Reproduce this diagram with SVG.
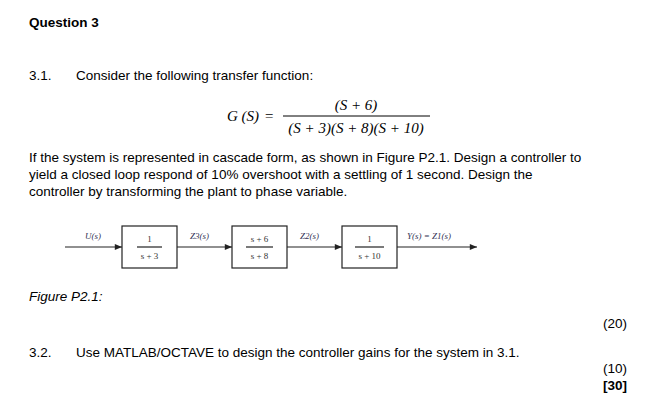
<svg xmlns="http://www.w3.org/2000/svg" width="659" height="418" viewBox="0 0 659 418">
<defs>
<style>
.t{font-family:"Liberation Sans",Arial,sans-serif;font-size:13.5px;fill:#000}
.m{font-family:"Liberation Serif","Times New Roman",serif;font-size:15px;font-style:italic;fill:#000}
.b{font-family:"Liberation Serif",serif;font-size:9px;fill:#333}
.bi{font-family:"Liberation Serif",serif;font-size:9px;font-style:italic;fill:#335}
.box{fill:#fff;stroke:#222;stroke-width:1.2}
.ln{stroke:#222;stroke-width:1.2;fill:none}
</style>
<marker id="a" viewBox="0 0 10 10" refX="10" refY="5" markerWidth="7" markerHeight="6" orient="auto"><path d="M0,1 L10,5 L0,9 z" fill="#222"/></marker>
</defs>
<rect width="659" height="418" fill="#fff"/>
<text class="t" x="29" y="27" font-weight="bold">Question 3</text>
<text class="t" x="29" y="80">3.1.</text>
<text class="t" x="76" y="80">Consider the following transfer function:</text>
<text class="m" x="227" y="121">G (S)</text>
<text class="m" x="264" y="121" font-style="normal">=</text>
<text class="m" x="356" y="110" text-anchor="middle">(S + 6)</text>
<line x1="283" y1="116" x2="430" y2="116" stroke="#000" stroke-width="1"/>
<text class="m" x="356" y="133" text-anchor="middle">(S + 3)(S + 8)(S + 10)</text>
<text class="t" x="29" y="162">If the system is represented in cascade form, as shown in Figure P2.1. Design a controller to</text>
<text class="t" x="29" y="179">yield a closed loop respond of 10% overshoot with a settling of 1 second. Design the</text>
<text class="t" x="29" y="196">controller by transforming the plant to phase variable.</text>
<g id="connectors">
<line class="ln" x1="65" y1="247" x2="122" y2="247" marker-end="url(#a)"/>
<line class="ln" x1="177" y1="247" x2="232" y2="247" marker-end="url(#a)"/>
<line class="ln" x1="287" y1="247" x2="342" y2="247" marker-end="url(#a)"/>
<line class="ln" x1="397" y1="247" x2="477" y2="247" marker-end="url(#a)"/>
</g>
<g id="b1"><rect class="box" x="122" y="226" width="55" height="42"/><text class="b" x="149.5" y="242" text-anchor="middle">1</text><line class="ln" x1="137" y1="247" x2="162" y2="247" stroke-width="0.8"/><text class="b" x="149.5" y="259" text-anchor="middle">s + 3</text></g>
<g id="b2"><rect class="box" x="232" y="226" width="55" height="42"/><text class="b" x="259.5" y="242" text-anchor="middle">s + 6</text><line class="ln" x1="246" y1="247" x2="273" y2="247" stroke-width="0.8"/><text class="b" x="259.5" y="259" text-anchor="middle">s + 8</text></g>
<g id="b3"><rect class="box" x="342" y="226" width="55" height="42"/><text class="b" x="369.5" y="242" text-anchor="middle">1</text><line class="ln" x1="355" y1="247" x2="384" y2="247" stroke-width="0.8"/><text class="b" x="369.5" y="259" text-anchor="middle">s + 10</text></g>
<text class="bi" x="85" y="239">U(s)</text>
<text class="bi" x="190" y="239">Z3(s)</text>
<text class="bi" x="300" y="239">Z2(s)</text>
<text class="bi" x="407" y="239">Y(s) = Z1(s)</text>
<text class="t" x="29" y="301" font-size="10" font-style="italic">Figure P2.1:</text>
<text class="t" x="603" y="328">(20)</text>
<text class="t" x="29" y="357">3.2.</text>
<text class="t" x="76" y="357">Use MATLAB/OCTAVE to design the controller gains for the system in 3.1.</text>
<text class="t" x="603" y="373">(10)</text>
<text class="t" x="603" y="390" font-weight="bold">[30]</text>
</svg>
